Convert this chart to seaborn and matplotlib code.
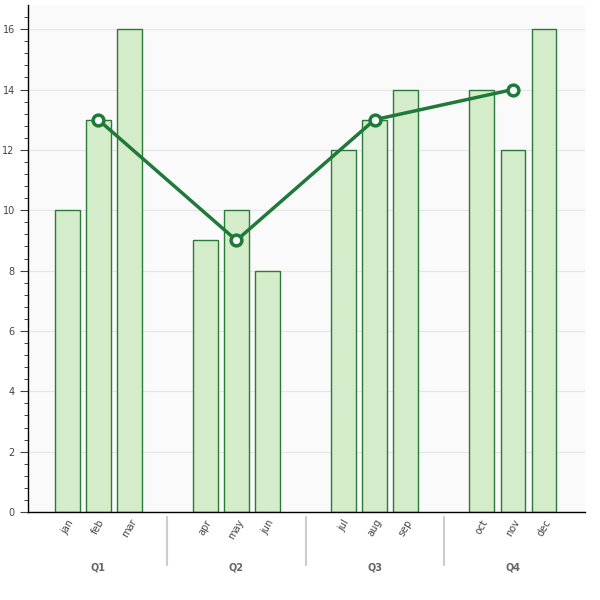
import matplotlib
matplotlib.use("Agg")
import matplotlib.pyplot as plt
import seaborn as sns
import pandas as pd
import numpy as np

months = ["jan","feb","mar","apr","may","jun","jul","aug","sep","oct","nov","dec"]
quarters = ["Q1","Q2","Q3","Q4"]
values = [10,13,16,9,10,8,12,13,14,14,12,16]
quarter_avg = [13,9,13,14]

sns.set_style("white")
pad = 1.45
pos = [i + (i // 3) * pad for i in range(12)]
qpos = [pos[3*q+1] for q in range(4)]

fig = plt.figure(figsize=(6,6), dpi=100)
ax = fig.add_axes([28/600, 88/600, 557/600, 507/600])
ax.set_facecolor("#fafafa")
df = pd.DataFrame({"x": pos, "y": values})
sns.barplot(data=df, x="x", y="y", native_scale=True, width=0.8,
            color="#d4ecc9", edgecolor="#2a7a3a", linewidth=1.0, saturation=1, ax=ax)
sns.lineplot(x=qpos, y=quarter_avg, color="#1f7a3a", linewidth=2.5, ax=ax, zorder=3)
ax.scatter(qpos, quarter_avg, s=60, facecolor="white", edgecolor="#1f7a3a", linewidth=2.5, zorder=4)

ax.set_xlim(pos[0]-1.26, pos[-1]+1.32)
ax.set_ylim(0, 16.8)
ax.set_yticks(range(0,17,2))
ax.set_yticks(np.arange(0,16.8,0.4), minor=True)
ax.yaxis.grid(True, color="#e6e6e6", linewidth=0.8)
ax.set_axisbelow(True)
ax.tick_params(axis="y", which="major", length=6, direction="out", labelsize=7, colors="#444444", left=True)
ax.tick_params(axis="y", which="minor", length=3, direction="out", left=True)
ax.set_xticks(pos)
ax.set_xticklabels(months, rotation=60, fontsize=7, color="#444444")
ax.tick_params(axis="x", length=0, pad=4)
ax.set_xlabel(""); ax.set_ylabel("")
for s in ["top","right"]:
    ax.spines[s].set_visible(False)
for s in ["left","bottom"]:
    ax.spines[s].set_color("black"); ax.spines[s].set_linewidth(1)

for q in range(4):
    ax.text(qpos[q], -1.85, quarters[q], ha="center", va="center", fontsize=7,
            fontweight="bold", color="#666666", transform=ax.transData, clip_on=False)
for q in range(3):
    xs = (pos[3*q+2] + pos[3*q+3]) / 2
    ax.plot([xs, xs], [-0.15, -1.75], color="#cccccc", linewidth=1.5, clip_on=False)

fig.savefig("out.png", dpi=100, facecolor="white")
